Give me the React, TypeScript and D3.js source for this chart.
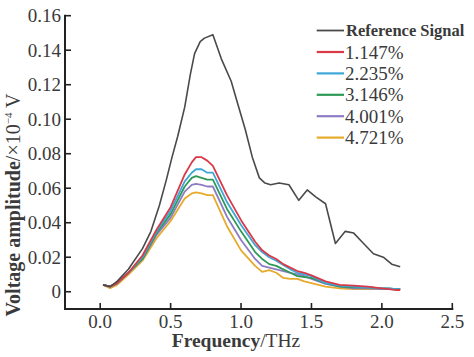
import React from "react";
import * as d3 from "d3";

const refX = [0.02, 0.07, 0.12, 0.2, 0.3, 0.36, 0.42, 0.47, 0.51, 0.55, 0.6, 0.64, 0.67, 0.71, 0.74, 0.8, 0.86, 0.93, 0.98, 1.03, 1.08, 1.13, 1.17, 1.21, 1.27, 1.34, 1.41, 1.47, 1.53, 1.6, 1.67, 1.74, 1.8, 1.87, 1.94, 2.01, 2.07, 2.13];
const refY = [0.004, 0.003, 0.006, 0.013, 0.025, 0.035, 0.05, 0.065, 0.078, 0.09, 0.107, 0.126, 0.138, 0.145, 0.147, 0.149, 0.135, 0.122, 0.108, 0.094, 0.078, 0.066, 0.063, 0.062, 0.063, 0.062, 0.053, 0.059, 0.055, 0.051, 0.028, 0.035, 0.034, 0.028, 0.022, 0.02, 0.016, 0.0145];

const sampleX = [0.02, 0.07, 0.12, 0.2, 0.3, 0.4, 0.5, 0.6, 0.65, 0.68, 0.72, 0.76, 0.8, 0.9, 1.0, 1.1, 1.15, 1.2, 1.25, 1.3, 1.35, 1.4, 1.45, 1.5, 1.6, 1.7, 1.8, 1.9, 2.0, 2.05, 2.1, 2.13];
const s1147 = [0.004, 0.003, 0.005, 0.011, 0.021, 0.036, 0.049, 0.068, 0.075, 0.078, 0.078, 0.076, 0.073, 0.056, 0.0415, 0.029, 0.024, 0.021, 0.019, 0.016, 0.014, 0.012, 0.011, 0.0095, 0.006, 0.004, 0.0035, 0.003, 0.002, 0.0015, 0.001, 0.001];
const s2235 = [0.004, 0.003, 0.005, 0.011, 0.020, 0.035, 0.047, 0.064, 0.069, 0.071, 0.071, 0.069, 0.069, 0.052, 0.0387, 0.027, 0.023, 0.020, 0.018, 0.0155, 0.013, 0.011, 0.010, 0.009, 0.005, 0.0035, 0.003, 0.0025, 0.002, 0.002, 0.0015, 0.0015];
const s3146 = [0.004, 0.003, 0.005, 0.011, 0.019, 0.034, 0.045, 0.061, 0.066, 0.067, 0.066, 0.065, 0.065, 0.048, 0.035, 0.023, 0.019, 0.016, 0.015, 0.013, 0.011, 0.009, 0.0085, 0.008, 0.005, 0.003, 0.0025, 0.0025, 0.002, 0.002, 0.0015, 0.0015];
const s4001 = [0.004, 0.003, 0.005, 0.011, 0.019, 0.033, 0.043, 0.058, 0.062, 0.0625, 0.062, 0.061, 0.061, 0.0435, 0.030, 0.019, 0.015, 0.014, 0.013, 0.012, 0.011, 0.010, 0.009, 0.0075, 0.0045, 0.003, 0.002, 0.002, 0.0015, 0.0015, 0.0015, 0.0015];
const s4721 = [0.004, 0.002, 0.004, 0.010, 0.018, 0.031, 0.041, 0.054, 0.057, 0.0576, 0.057, 0.056, 0.056, 0.038, 0.024, 0.015, 0.0115, 0.0125, 0.011, 0.008, 0.0075, 0.0075, 0.006, 0.005, 0.003, 0.002, 0.0015, 0.0015, 0.0015, 0.0015, 0.0015, 0.0015];

const seriesNames = ["1.147%", "2.235%", "3.146%", "4.001%", "4.721%"];
const seriesValues = [s1147, s2235, s3146, s4001, s4721];
const seriesColors = ["#d93a48", "#3fa6d8", "#2f9a57", "#8d7cc4", "#e6aa2c"];
const refName = "Reference Signal";
const refColor = "#4a4a4a";

const xTicks = [0.0, 0.5, 1.0, 1.5, 2.0, 2.5];
const yTicks = [0, 0.02, 0.04, 0.06, 0.08, 0.1, 0.12, 0.14, 0.16];

const W = 474;
const H = 357;
const left = 65;
const right = 452.3;
const top = 15.7;
const bottom = 309;

const serif = { fontFamily: '"Liberation Serif", "Times New Roman", serif' };

export default function App() {
  const x = d3.scaleLinear().domain([-0.25, 2.5]).range([left, right]);
  const y = d3.scaleLinear().domain([-0.01, 0.16]).range([bottom, top]);
  const line = d3
    .line<[number, number]>()
    .x((d) => x(d[0]))
    .y((d) => y(d[1]));
  const textColor = "#3a3a3a";
  const fmtY = (v: number) => (v === 0 ? "0" : v.toFixed(2));

  const refData: [number, number][] = refX.map((v, i) => [v, refY[i]]);

  return (
    <svg
      width={W}
      height={H}
      style={{ position: "absolute", left: 0, top: 0, background: "#fff" }}
    >
      {seriesValues
        .map((vals, k) => ({ vals, k }))
        .reverse()
        .map(({ vals, k }) => (
          <path
            key={seriesNames[k]}
            d={line(sampleX.map((v, i) => [v, vals[i]] as [number, number])) || ""}
            fill="none"
            stroke={seriesColors[k]}
            strokeWidth={1.8}
            strokeLinejoin="round"
          />
        ))}
      <path d={line(refData) || ""} fill="none" stroke={refColor} strokeWidth={1.6} strokeLinejoin="round" />

      <line x1={left} x2={left} y1={top - 1} y2={bottom + 1} stroke="#222" strokeWidth={2} />
      <line x1={left - 1} x2={right + 1} y1={bottom} y2={bottom} stroke="#222" strokeWidth={2} />
      {yTicks.map((t) => (
        <g key={"y" + t}>
          <line x1={left} x2={left + 6} y1={y(t)} y2={y(t)} stroke="#222" strokeWidth={1.6} />
          <text x={61} y={y(t) + 6.5} textAnchor="end" fontSize={19} fill={textColor} style={serif}>
            {fmtY(t)}
          </text>
        </g>
      ))}
      {xTicks.map((t) => (
        <g key={"x" + t}>
          <line x1={x(t)} x2={x(t)} y1={bottom} y2={bottom - 6} stroke="#222" strokeWidth={1.6} />
          <text x={x(t)} y={328} textAnchor="middle" fontSize={19} fill={textColor} style={serif}>
            {t.toFixed(1)}
          </text>
        </g>
      ))}

      <text x={236} y={347} textAnchor="middle" fontSize={19.5} fill={textColor} style={serif}>
        <tspan fontWeight="bold">Frequency</tspan>
        <tspan>/THz</tspan>
      </text>
      <text
        transform="translate(20,205) rotate(-90)"
        textAnchor="middle"
        fontSize={20}
        fill={textColor}
        style={serif}
      >
        <tspan fontWeight="bold">Voltage amplitude</tspan>
        <tspan>/×10</tspan>
        <tspan fontSize={11} dy={-8}>−4</tspan>
        <tspan dy={8}> V</tspan>
      </text>

      <g>
        <line x1={316.7} x2={344} y1={30.5} y2={30.5} stroke={refColor} strokeWidth={1.8} />
        <text x={346} y={36} fontSize={16.5} fontWeight="bold" fill={textColor} style={serif}>
          {refName}
        </text>
        {seriesNames.map((n, i) => (
          <g key={n}>
            <line
              x1={316.7}
              x2={344}
              y1={52 + i * 21.4}
              y2={52 + i * 21.4}
              stroke={seriesColors[i]}
              strokeWidth={2.2}
            />
            <text x={345} y={58.5 + i * 21.4} fontSize={19} fill={textColor} style={serif}>
              {n}
            </text>
          </g>
        ))}
      </g>
    </svg>
  );
}
